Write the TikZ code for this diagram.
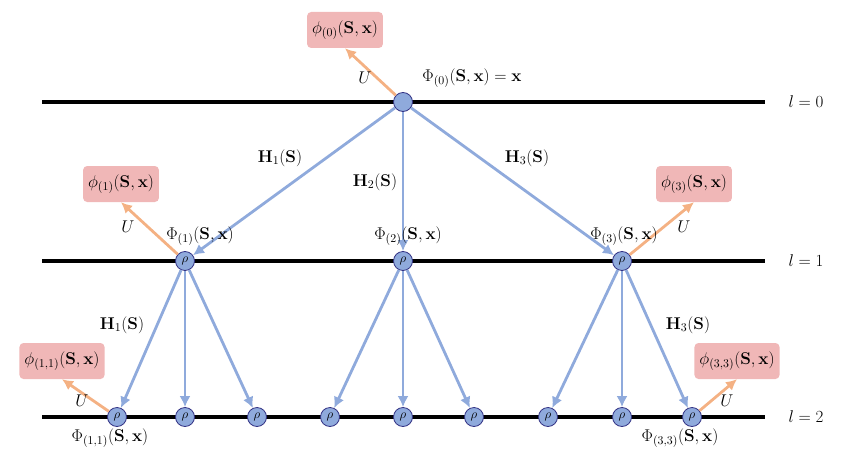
\RequirePackage{fix-cm}
\documentclass[tikz,border=0pt]{standalone}
\usepackage{amsmath}
\usetikzlibrary{arrows.meta}
\begin{document}
\begin{tikzpicture}[x=1pt,y=-1pt,font=\fontsize{17}{20}\selectfont,
  nd/.style={circle,draw=blue!40!black!80,fill=bl,line width=0.8pt,minimum size=19pt,inner sep=0pt,font=\fontsize{13}{14}\selectfont},
  box/.style={rounded corners=4pt,fill=pk,inner sep=5pt,minimum height=36pt},
  ba/.style={draw=bl,line width=2.8pt,-{Latex[length=11pt,width=11pt]}},
  oa/.style={draw=og,line width=2.8pt,-{Latex[length=11pt,width=11pt]}},
  lev/.style={line width=3.2pt}]
\definecolor{bl}{RGB}{143,170,220}
\definecolor{pk}{RGB}{240,183,183}
\definecolor{og}{RGB}{244,177,131}
\useasboundingbox (0,0) rectangle (842,460);
\foreach \y/\l in {102/0,261/1,417/2}{
  \coordinate (la\l) at (42,\y); \coordinate (lb\l) at (765,\y);
  \draw[lev] (la\l) -- (lb\l);
  \node (ll\l) at (806,\y) {$l=\l$};}
\node[nd] (r) at (403,102) {};
\node[nd] (a1) at (185,261) {$\rho$};
\node[nd] (a2) at (403,261) {$\rho$};
\node[nd] (a3) at (622,261) {$\rho$};
\foreach \i/\x in {1/117,2/185,3/257,4/330,5/403,6/474,7/548,8/622,9/692}
  \node[nd] (b\i) at (\x,417) {$\rho$};
\foreach \i in {1,2,3} \draw[ba] (r) -- (a\i);
\foreach \i in {1,2,3} \draw[ba] (a1) -- (b\i);
\foreach \i in {4,5,6} \draw[ba] (a2) -- (b\i);
\foreach \i in {7,8,9} \draw[ba] (a3) -- (b\i);
\node[box] (p0) at (345,30) {$\phi_{(0)}(\mathbf{S},\mathbf{x})$};
\node[box] (p1) at (121,184) {$\phi_{(1)}(\mathbf{S},\mathbf{x})$};
\node[box] (p3) at (694,184) {$\phi_{(3)}(\mathbf{S},\mathbf{x})$};
\node[box] (p11) at (62,361) {$\phi_{(1,1)}(\mathbf{S},\mathbf{x})$};
\node[box] (p33) at (737,361) {$\phi_{(3,3)}(\mathbf{S},\mathbf{x})$};
\draw[oa] (r) -- (p0.south);
\draw[oa] (a1) -- (p1.south);
\draw[oa] (a3) -- (p3.south);
\draw[oa] (b1) -- (p11.south);
\draw[oa] (b9) -- (p33.south);
\node (u0) at (365,78) {$U$};
\node (u1) at (128,227) {$U$};
\node (u3) at (684,227) {$U$};
\node (u11) at (82,401) {$U$};
\node (u33) at (727,401) {$U$};
\node (f0) at (472,78) {$\Phi_{(0)}(\mathbf{S},\mathbf{x})=\mathbf{x}$};
\node (f1) at (200,236) {$\Phi_{(1)}(\mathbf{S},\mathbf{x})$};
\node (f2) at (408,236) {$\Phi_{(2)}(\mathbf{S},\mathbf{x})$};
\node (f3) at (624,236) {$\Phi_{(3)}(\mathbf{S},\mathbf{x})$};
\node (f11) at (110,438) {$\Phi_{(1,1)}(\mathbf{S},\mathbf{x})$};
\node (f33) at (680,438) {$\Phi_{(3,3)}(\mathbf{S},\mathbf{x})$};
\node (h1) at (280,158) {$\mathbf{H}_1(\mathbf{S})$};
\node (h2) at (375,182) {$\mathbf{H}_2(\mathbf{S})$};
\node (h3) at (527,158) {$\mathbf{H}_3(\mathbf{S})$};
\node (h11) at (122,325) {$\mathbf{H}_1(\mathbf{S})$};
\node (h33) at (688,325) {$\mathbf{H}_3(\mathbf{S})$};
\end{tikzpicture}
\end{document}
